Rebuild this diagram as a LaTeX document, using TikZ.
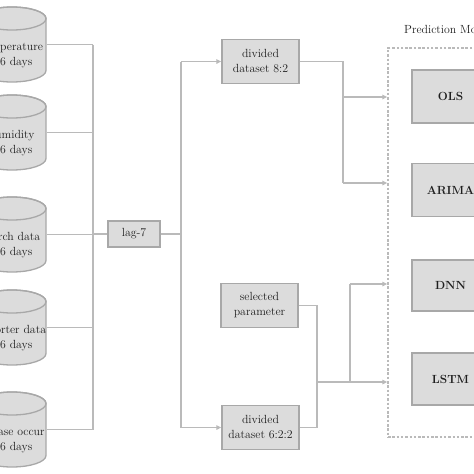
\documentclass[tikz,border=0pt]{standalone}
\usetikzlibrary{arrows.meta}
\definecolor{boxfill}{HTML}{DCDCDC}
\definecolor{boxline}{HTML}{A8A8A8}
\definecolor{conn}{HTML}{BABABA}
\definecolor{txt}{HTML}{1E1E1E}
\tikzset{
  stagebox/.style={draw=boxline, fill=boxfill, line width=1.3pt, minimum width=77pt, minimum height=44pt, align=center, text=txt, font=\fontsize{11.8}{15}\selectfont, inner sep=1pt},
  modelbox/.style={draw=boxline, fill=boxfill, line width=1.3pt, minimum width=77pt, minimum height=53pt, text=txt, font=\fontsize{11.8}{15}\selectfont\bfseries},
  cyltext/.style={align=center, text=txt, font=\fontsize{11.8}{15}\selectfont, inner sep=0pt},
  conline/.style={draw=conn, line width=1.3pt},
  conarrow/.style={conline, -{Triangle[length=5pt,width=4.5pt]}},
}
\begin{document}
\begin{tikzpicture}[x=1pt,y=-1pt]
\useasboundingbox (0,0) rectangle (474,474);
\clip (0,0) rectangle (474,474);
% cylinders
\foreach \t/\nm/\la in {7/c1/Temperature, 95/c2/Humidity, 197/c3/Search data, 290/c4/Reporter data, 392/c5/Disease occur}{
  \filldraw[fill=boxfill, draw=boxline, line width=1.3pt]
    (-22,\t+11.5) -- (-22,\t+63.5) arc[start angle=180, end angle=360, x radius=34pt, y radius=11.5pt]
    -- (46,\t+11.5) arc[start angle=0, end angle=180, x radius=34pt, y radius=11.5pt] -- cycle;
  \draw[boxline, line width=1.3pt] (12,\t+11.5) ellipse[x radius=34pt, y radius=11.5pt];
  \node[cyltext] (\nm) at (10.5,\t+48) {\la\\366 days};
  \coordinate (\nm e) at (47,\t+37.5);
}
\coordinate (b1) at (93,0);
\coordinate (b2) at (181,0);
\coordinate (b3) at (343,0);
\coordinate (b4) at (317,0);
\coordinate (b5) at (350,0);
% stage nodes
\node[stagebox, minimum width=52pt, minimum height=26pt] (lag) at (134,234) {lag-7};
\node[stagebox] (d82) at (260.5,61.5) {divided\\dataset 8:2};
\node[stagebox] (sel) at (259.5,305.5) {selected\\parameter};
\node[stagebox] (d622) at (260.5,427.5) {divided\\dataset 6:2:2};
% prediction models
\node[draw=conn, line width=1.3pt, dash pattern=on 2.5pt off 1.8pt, minimum width=112pt, minimum height=389pt] (pm) at (444,242.5) {};
\node[anchor=west, text=txt, font=\fontsize{11.8}{15}\selectfont, inner sep=0pt] (pmlabel) at (404,29) {Prediction Models};
\node[modelbox] (ols) at (450.5,96.5) {OLS};
\node[modelbox] (arima) at (450.5,190) {ARIMA};
\node[modelbox, minimum height=51pt] (dnn) at (450.5,285.5) {DNN};
\node[modelbox, minimum height=52pt] (lstm) at (450.5,379) {LSTM};
\coordinate (yO) at (0,97);
\coordinate (yA) at (0,183);
\coordinate (yD) at (0,284);
\coordinate (yL) at (0,382);
% left bus
\foreach \nm in {c1,c2,c3,c4,c5}{ \draw[conline] (\nm e) -- (\nm e -| b1); }
\draw[conline] (c1e -| b1) -- (c5e -| b1);
\draw[conline] (lag.west -| b1) -- (lag.west);
% second bus
\draw[conline] (lag.east) -- (lag.east -| b2);
\draw[conline] (d82.west -| b2) -- (d622.west -| b2);
\draw[conarrow] (d82.west -| b2) -- (d82.west);
\draw[conarrow] (d622.west -| b2) -- (d622.west);
% right upper
\draw[conline] (d82.east) -- (d82.east -| b3) -- (yA -| b3);
\draw[conarrow] (yO -| b3) -- (yO -| pm.west);
\draw[conarrow] (yA -| b3) -- (yA -| pm.west);
% right lower
\draw[conline] (sel.east) -- (sel.east -| b4) -- (d622.east -| b4) -- (d622.east);
\draw[conarrow] (yL -| b4) -- (yL -| pm.west);
\draw[conline] (yL -| b5) -- (yD -| b5);
\draw[conarrow] (yD -| b5) -- (yD -| pm.west);
\end{tikzpicture}
\end{document}
